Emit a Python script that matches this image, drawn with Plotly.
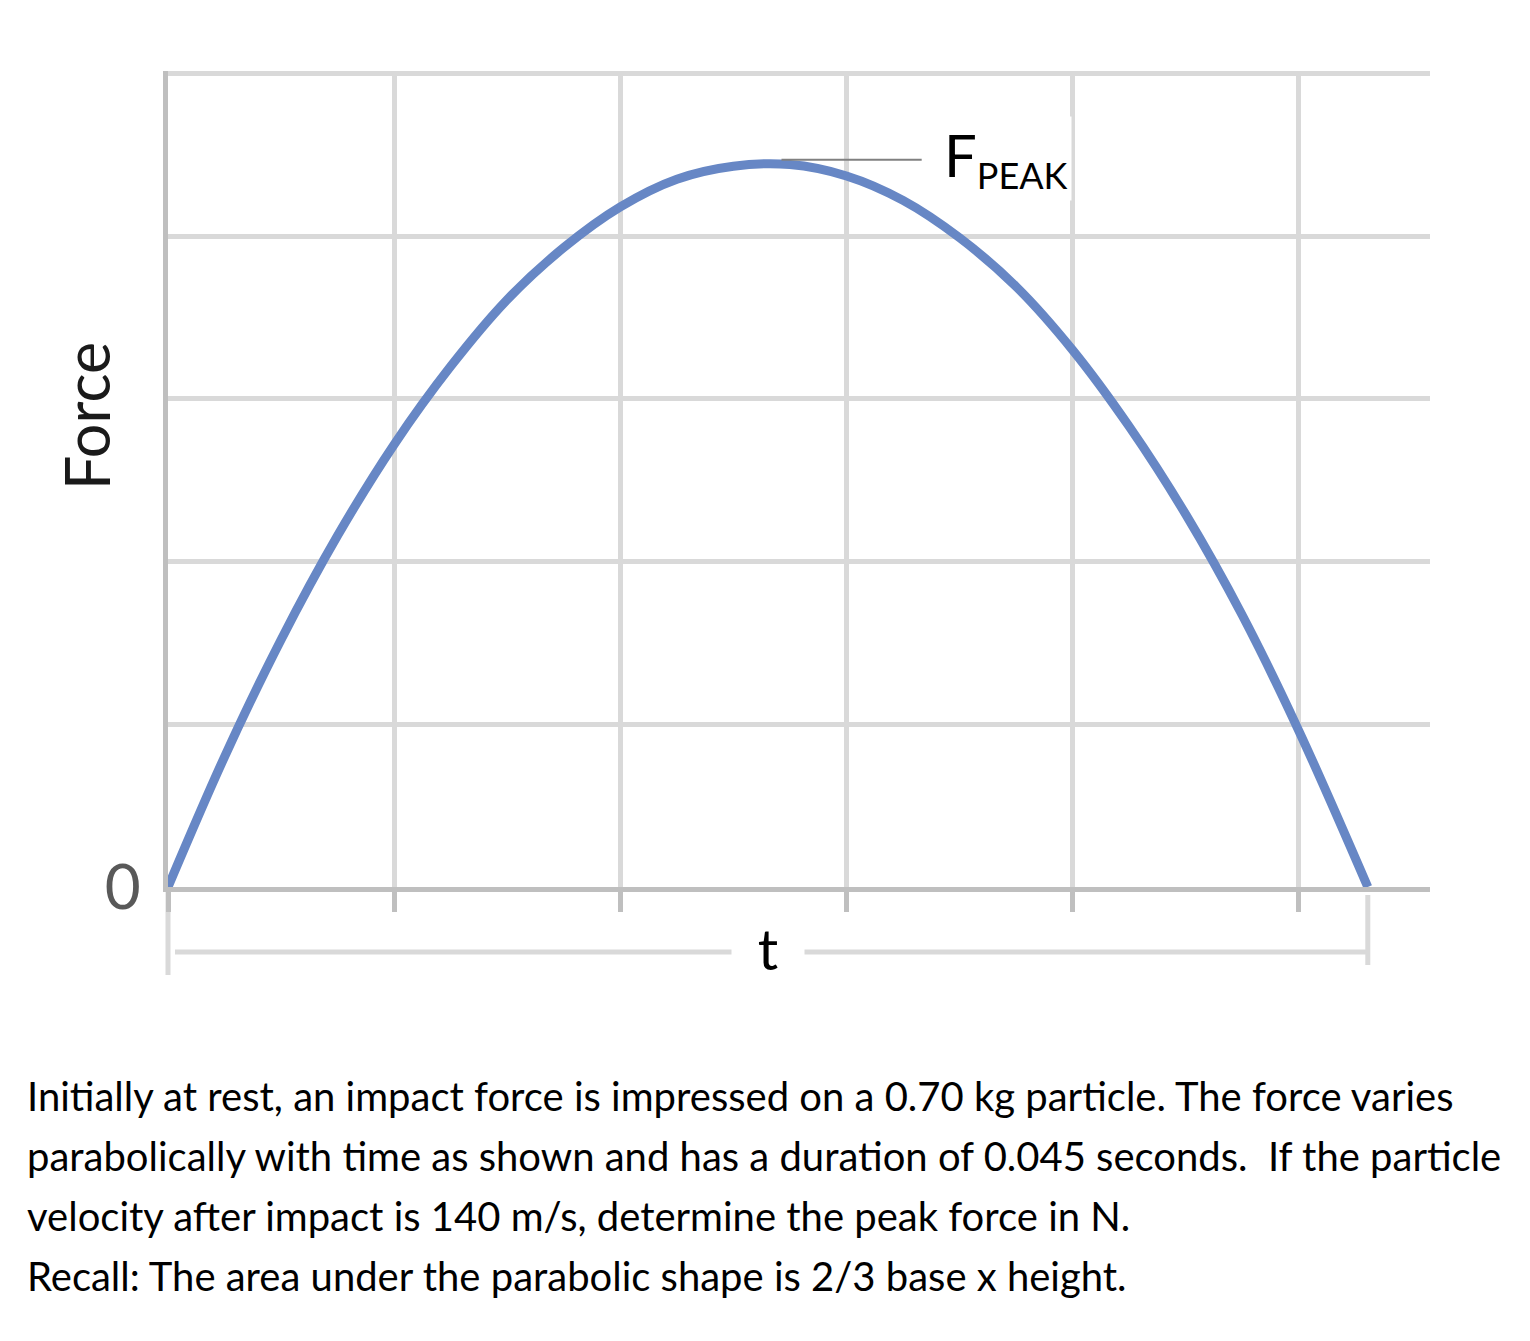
import plotly.graph_objects as go

# ---- data (grid units) ----
time_vals = [0, 0.25, 0.5, 0.75, 1.0, 1.25, 1.5, 1.75, 2.0, 2.25, 2.5, 2.75,
             3.0, 3.25, 3.5, 3.75, 4.0, 4.25, 4.5, 4.75, 5.0, 5.305]
force_vals = [0, 0.80, 1.52, 2.16, 2.72, 3.20, 3.61, 3.93, 4.18, 4.35, 4.43, 4.44,
              4.37, 4.22, 3.99, 3.69, 3.30, 2.83, 2.29, 1.67, 0.96, 0]
x_ticks = [0, 1, 2, 3, 4, 5]
y_label_vals = [0]
y_label_text = ["0"]
GRID_STEP = 1
X_MAX = 5.58
Y_MAX = 5.015
T_END = time_vals[-1]
T_MID = T_END / 2
PEAK = max(force_vals)

paragraph = [
    "Initially at rest, an impact force is impressed on a 0.70 kg particle. The force varies",
    "parabolically with time as shown and has a duration of 0.045 seconds.  If the particle",
    "velocity after impact is 140 m/s, determine the peak force in N.",
    "Recall: The area under the parabolic shape is 2/3 base x height.",
]

W, H = 1530, 1341
ML, MR, MT, MB = 168, 100, 71, 454
PW = W - ML - MR
PH = H - MT - MB

def py(pix):
    return (H - MB - pix) / PH

def px(pix):
    return (pix - ML) / PW

fig = go.Figure()
fig.add_trace(go.Scatter(
    x=time_vals, y=force_vals, mode="lines",
    line=dict(color="#6787c5", width=9, shape="spline", smoothing=1.0),
    hoverinfo="skip", showlegend=False,
))

grid_c = "#d9d9d9"
axis_c = "#bfbfbf"

shapes = [
    # dimension extension lines and bar
    dict(type="line", xref="paper", yref="paper", x0=0, x1=0, y0=0, y1=py(975),
         line=dict(color=grid_c, width=5), layer="below"),
    dict(type="line", xref="paper", yref="paper", x0=T_END / X_MAX, x1=T_END / X_MAX,
         y0=py(895), y1=py(965), line=dict(color=grid_c, width=5), layer="below"),
    dict(type="line", xref="paper", yref="paper", x0=px(175), x1=T_END / X_MAX,
         y0=py(952), y1=py(952), line=dict(color=grid_c, width=5), layer="below"),
    # leader line to the peak
    dict(type="line", xref="x", yref="y", x0=T_MID + 0.06, x1=T_MID + 0.68,
         y0=PEAK + 0.03, y1=PEAK + 0.03, line=dict(color="#808080", width=2)),
]

annotations = [
    dict(text="F<sub><span style='font-size:36px'>PEAK</span></sub>",
         xref="x", yref="y", x=T_MID + 0.76, y=PEAK + 0.035,
         xanchor="left", yanchor="middle", showarrow=False,
         font=dict(size=58, color="#000000", family="Lato"),
         bgcolor="#ffffff", borderpad=3),
    dict(text="t", xref="x", yref="paper", x=T_MID, y=py(948),
         xanchor="center", yanchor="middle", showarrow=False,
         font=dict(size=57, color="#000000", family="Lato"),
         bgcolor="#ffffff", width=60, borderpad=6),
    dict(text="Force", xref="paper", yref="paper", x=px(86), y=py(416),
         xanchor="center", yanchor="middle", showarrow=False, textangle=-90,
         font=dict(size=61, color="#1a1a1a", family="Lato")),
]
for i, line in enumerate(paragraph):
    annotations.append(dict(
        text=line, xref="paper", yref="paper", x=px(25), y=py(1096 + 60 * i),
        xanchor="left", yanchor="middle", showarrow=False, align="left",
        font=dict(size=40, color="#000000", family="Lato"),
    ))

fig.update_layout(
    width=W, height=H, autosize=False,
    margin=dict(l=ML, r=MR, t=MT, b=MB, pad=0),
    paper_bgcolor="#ffffff", plot_bgcolor="#ffffff",
    font=dict(family="Lato"),
    showlegend=False,
    shapes=shapes, annotations=annotations,
    xaxis=dict(range=[0, X_MAX], tickvals=x_ticks, showticklabels=False,
               showgrid=True, gridcolor=grid_c, gridwidth=5,
               showline=True, linecolor=axis_c, linewidth=5,
               ticks="outside", ticklen=20, tickwidth=5, tickcolor=axis_c,
               zeroline=False, fixedrange=True),
    yaxis=dict(range=[0, Y_MAX], tickvals=y_label_vals, ticktext=y_label_text,
               showgrid=True, gridcolor=grid_c, gridwidth=5,
               minor=dict(tick0=0, dtick=GRID_STEP, showgrid=True,
                          gridcolor=grid_c, gridwidth=5, ticks=""),
               showline=True, linecolor=axis_c, linewidth=5,
               ticks="", ticklabelstandoff=10,
               tickfont=dict(size=62, color="#595959", family="Lato"),
               zeroline=False, fixedrange=True),
)

fig.write_html("out.html", config={"displayModeBar": False})
